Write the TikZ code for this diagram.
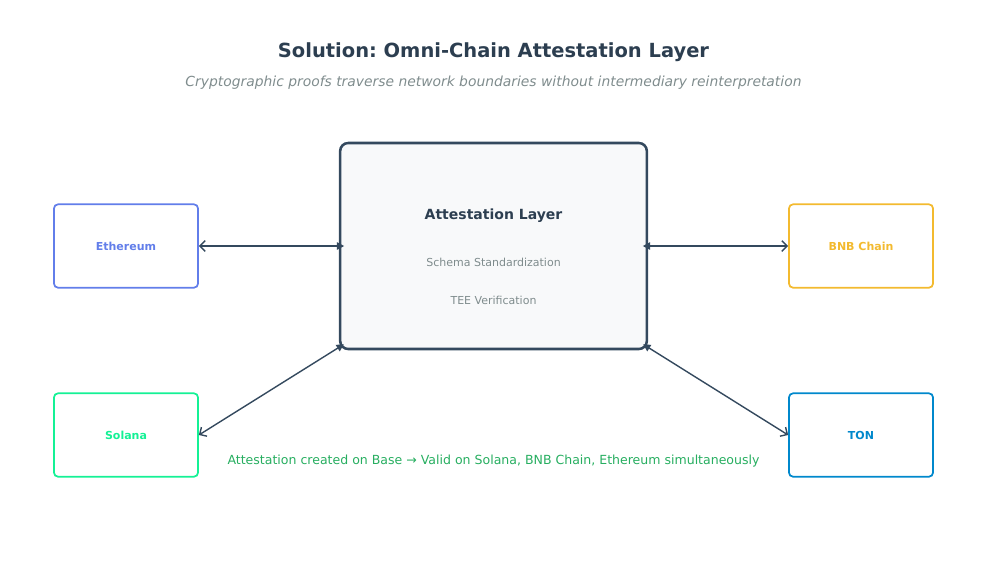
\documentclass[tikz,border=0pt]{standalone}
\usepackage{fontspec}
\setmainfont{DejaVu Sans}
\usepackage{xcolor}
\usepackage{tikz}
\usetikzlibrary{arrows.meta, positioning}
\definecolor{titlecol}{HTML}{2C3E50}
\definecolor{boxline}{HTML}{34495E}
\definecolor{greytext}{HTML}{7F8C8D}
\definecolor{boxfill}{HTML}{F8F9FA}
\definecolor{ethcol}{HTML}{627EEA}
\definecolor{solcol}{HTML}{14F195}
\definecolor{bnbcol}{HTML}{F3BA2F}
\definecolor{toncol}{HTML}{0088CC}
\definecolor{notecol}{HTML}{27AE60}
\frenchspacing
\tikzset{
    layernode/.style = {draw=boxline, fill=boxfill, rectangle, rounded corners=6pt, line width=1.9pt,
      minimum width=230pt, minimum height=154.5pt, inner sep=0em},
    chainnode/.style = {draw, fill=white, rectangle, rounded corners=3pt, line width=1.3pt,
      minimum width=108pt, minimum height=62.5pt, inner sep=0em, font=\fontsize{8.25}{10}\selectfont\bfseries},
    textnode/.style  = {draw=none, fill=none, rectangle, inner sep=0em},
    link/.style = {draw=boxline, line width=1.05pt},
    intip/.tip = {Triangle[length=5.5pt,width=5.5pt]},
    outtip/.tip = {Straight Barb[length=4pt,width=8pt]},
    every text node part/.style={align=center}
}

\begin{document}
\begin{tikzpicture}[x=0.75pt, y=-0.75pt]
    \useasboundingbox (0,0) rectangle (987,587);

    \node [name=title, textnode, font=\fontsize{14.6}{17}\selectfont\bfseries, text=titlecol] at (493.5,52.5)
        {Solution: Omni-Chain Attestation Layer};
    \node [name=subtitle, textnode, font=\fontsize{10.4}{13}\selectfont\itshape, text=greytext] at (493.5,83)
        {Cryptographic proofs traverse network boundaries without intermediary reinterpretation};

    \node [name=att, layernode] at (493.5,246) {};
    \node [name=attname, textnode, font=\fontsize{10.5}{13}\selectfont\bfseries, text=titlecol] at (493.5,215.5)
        {Attestation Layer};
    \node [name=schema, textnode, font=\fontsize{8.25}{10}\selectfont, text=greytext] at (493.5,262.5)
        {Schema Standardization};
    \node [name=tee, textnode, font=\fontsize{8.25}{10}\selectfont, text=greytext] at (493.5,300.5)
        {TEE Verification};

    \node [name=eth, chainnode, draw=ethcol, text=ethcol] at (126,246) {Ethereum};
    \node [name=bnb, chainnode, draw=bnbcol, text=bnbcol] at (861,246) {BNB Chain};
    \node [name=sol, chainnode, draw=solcol, text=solcol] at (126,435) {Solana};
    \node [name=ton, chainnode, draw=toncol, text=toncol] at (861,435) {TON};

    \draw [link, outtip-intip, shorten >=-4pt] (eth.east) -- (att.west);
    \draw [link, intip-outtip, shorten <=-4pt] (att.east) -- (bnb.west);
    \draw [link, intip-outtip] ([shift={(5,-6)}]att.south west) -- (sol.east);
    \draw [link, intip-outtip] ([shift={(-5,-6)}]att.south east) -- (ton.west);

    \node [name=note, textnode, font=\fontsize{9.4}{11}\selectfont, text=notecol] at (493.5,461)
        {Attestation created on Base → Valid on Solana, BNB Chain, Ethereum simultaneously};
\end{tikzpicture}
\end{document}
